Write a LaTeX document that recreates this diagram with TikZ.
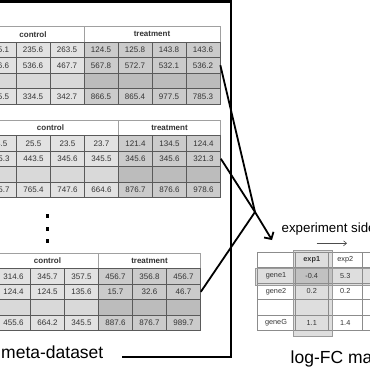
\documentclass[tikz,border=0pt]{standalone}
\usepackage{fontspec}
\setmainfont{Liberation Sans}
\usepackage{tikz}
\usepackage{xcolor}
\usetikzlibrary{arrows.meta,positioning,calc}
\definecolor{ink}{HTML}{333333}
\definecolor{gridline}{HTML}{5A5A5A}
\definecolor{headline}{HTML}{A0A0A0}
\definecolor{ctrl}{HTML}{E2E2E2}
\definecolor{ctrlgap}{HTML}{D9D9D9}
\definecolor{trt}{HTML}{CBCBCB}
\definecolor{trtgap}{HTML}{BCBCBC}
\definecolor{fcgrid}{HTML}{8C8C8C}
\definecolor{hiedge}{HTML}{9A9A9A}
\tikzset{
  datacell/.style={draw=gridline,line width=0.7pt,minimum width=34pt,minimum height=15.5pt,inner sep=0pt,font=\fontsize{8}{9}\selectfont,text=ink},
  headcell/.style={draw=headline,fill=white,line width=0.6pt,minimum height=15.5pt,inner sep=0pt,font=\fontsize{8}{9}\selectfont\bfseries,text=ink},
  fccell/.style={draw=fcgrid,line width=0.6pt,minimum height=15.75pt,inner sep=0pt,font=\fontsize{7.3}{8.5}\selectfont,text=ink},
  feed/.style={line width=1.8pt,draw=black},
  outerframe/.style={line width=2.4pt,draw=black},
  hilite/.style={fill=black,fill opacity=0.13},
  hiline/.style={draw=hiedge,line width=0.7pt},
  biglabel/.style={font=\fontsize{17.5}{20}\selectfont,inner sep=0pt,text=black},
  sidelabel/.style={font=\fontsize{13.3}{15}\selectfont,inner sep=0pt,text=black},
  sidearrow/.style={-{Straight Barb[length=3pt,width=5pt]},line width=0.6pt,draw=black!70}
}

% one row of a data table: name, left, top, control columns, row, values
\newcommand{\metarow}[6]{%
  \foreach \val [count=\col] in {#6}{
    \ifnum\col>#4 \def\tone{trt}\else\def\tone{ctrl}\fi
    \ifnum#5=3 \edef\tone{\tone gap}\fi
    \node[datacell,fill=\tone] (#1-#5-\col) at ({#2+34*\col-17},{#3+7.75+15.5*#5}) {\val};
  }%
}
% data table: name, left, top, control columns, all columns, three value rows
\newcommand{\metatable}[8]{%
  \node[headcell,minimum width={34pt*#4}] (#1-ctrl) at ({#2+17*#4},{#3+7.75}) {control};
  \node[headcell,minimum width={34pt*(#5-#4)}] (#1-trt) at ({#2+34*#4+17*(#5-#4)},{#3+7.75}) {treatment};
  \metarow{#1}{#2}{#3}{#4}{1}{#6}
  \metarow{#1}{#2}{#3}{#4}{2}{#7}
  \metarow{#1}{#2}{#3}{#4}{4}{#8}
  \foreach \col in {1,...,#5}{
    \ifnum\col>#4 \def\tone{trtgap}\else\def\tone{ctrlgap}\fi
    \node[datacell,fill=\tone] (#1-3-\col) at ({#2+34*\col-17},{#3+54.25}) {};
  }%
}

\begin{document}
\begin{tikzpicture}[x=1pt,y=-1pt]
  \useasboundingbox (0,0) rectangle (370,370);
  \clip (0,0) rectangle (370,370);

  % meta-dataset tables
  \metatable{t1}{-18}{26.5}{3}{7}{245.1,235.6,263.5,124.5,125.8,143.8,143.6}{456.6,536.6,467.7,567.8,572.7,532.1,536.2}{345.5,334.5,342.7,866.5,865.4,977.5,785.3}
  \metatable{t2}{-17.5}{120}{4}{7}{24.5,25.5,23.5,23.7,121.4,134.5,124.4}{345.3,443.5,345.6,345.5,345.6,345.6,321.3}{745.7,765.4,747.6,664.6,876.7,876.6,978.6}
  \metatable{t3}{-3.5}{253}{3}{6}{314.6,345.7,357.5,456.7,356.8,456.7}{124.4,124.5,135.6,15.7,32.6,46.7}{455.6,664.2,345.5,887.6,876.7,989.7}

  \foreach \yd in {216,229,241}
    \fill (45.5,\yd-1.7) rectangle ++(3,3.4);

  \node[biglabel,anchor=base west] (metalabel) at (1,358) {meta-dataset};
  \draw[outerframe] (-5,1.3) -- (231,1.3) -- (231,357) -- (122,357);

  % log-FC matrix
  \fill[hilite] (293,250) rectangle (332.5,336);
  \fill[hilite] (255,268.5) rectangle (385,285);
  \foreach \lab/\va/\vb [count=\rw] in {{}/\textbf{exp1}/exp2,gene1/-0.4/5.3,gene2/0.2/0.2,{}/{}/{},geneG/1.1/1.4}{
    \node[fccell,minimum width=38pt] (fc-\rw-0) at (276,{244.125+15.75*\rw}) {\lab};
    \node[fccell,minimum width=33.5pt] (fc-\rw-1) at (311.75,{244.125+15.75*\rw}) {\va};
    \node[fccell,minimum width=33.5pt] (fc-\rw-2) at (345.25,{244.125+15.75*\rw}) {\vb};
    \node[fccell,minimum width=34pt] (fc-\rw-3) at (379,{244.125+15.75*\rw}) {};
  }
  \draw[hiline] (293,250) rectangle (332.5,336);
  \draw[hiline] (255,268.5) rectangle (385,285);

  \node[sidelabel,anchor=base west] (exptxt) at (281.5,232.5) {experiment side};
  \coordinate (sidestart) at (316.5,243.3);
  \coordinate (sideend) at (347,243.3);
  \draw[sidearrow] (sidestart) -- (sideend);
  \node[biglabel,anchor=base west] (fclabel) at (290.5,363) {log-FC matrix};

  % rows feeding the matrix
  \coordinate (merge) at (255,212);
  \coordinate (tip) at (272,240);
  \draw[feed] (t1-2-7.east) -- (merge);
  \draw[feed] (t2-2-7.east) -- (merge);
  \draw[feed] (t3-2-6.east) -- (merge);
  \draw[feed,-{Straight Barb[length=5pt,width=11pt]}] (merge) -- (tip);
\end{tikzpicture}
\end{document}
